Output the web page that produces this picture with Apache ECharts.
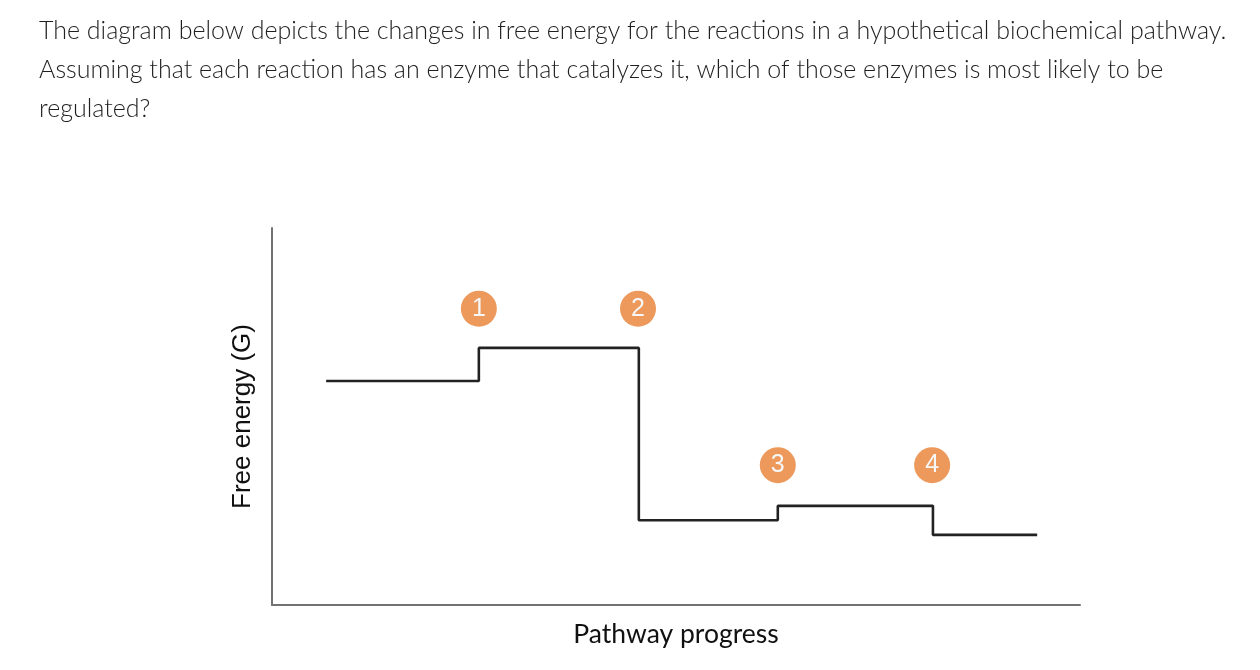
<!DOCTYPE html>
<html><head><meta charset="utf-8">
<script src="https://cdn.jsdelivr.net/npm/echarts@6/dist/echarts.min.js"></script>
<style>html,body{margin:0;padding:0;background:#fff}#c{width:1260px;height:670px}</style>
</head><body><div id="c"></div>
<script>
const questionLines = [
  'The diagram below depicts the changes in free energy for the reactions in a hypothetical biochemical pathway.',
  'Assuming that each reaction has an enzyme that catalyzes it, which of those enzymes is most likely to be',
  'regulated?'
];
// Step boundaries (pathway progress) and free-energy level starting at each boundary
const stepX = [6.7, 25.6, 45.4, 62.6, 81.8, 94.7];
const stepG = [59.4, 68.2, 22.5, 26.3, 18.6, 18.6];
// Enzyme markers
const enzymeLabels = ['1', '2', '3', '4'];
const enzymeX = [25.6, 45.3, 62.6, 81.7];
const enzymeY = [78.6, 78.6, 37.1, 37.1];

const chart = echarts.init(document.getElementById('c'), null, {renderer: 'canvas'});
chart.setOption({
  animation: false,
  title: {
    text: questionLines.join('\n'),
    left: 39, top: 11, padding: 0,
    textStyle: {fontFamily: 'Lato', fontSize: 25, fontWeight: 300, color: '#1f1f1f', lineHeight: 39}
  },
  grid: {left: 272, right: 180, top: 228, bottom: 65},
  xAxis: {
    type: 'value', min: 0, max: 100,
    name: 'Pathway progress', nameLocation: 'middle', nameGap: 16,
    nameTextStyle: {fontFamily: 'Lato', fontSize: 26.5, color: '#111'},
    axisLine: {show: true, lineStyle: {color: '#727272', width: 2}},
    axisTick: {show: false}, axisLabel: {show: false}, splitLine: {show: false}
  },
  yAxis: {
    type: 'value', min: 0, max: 100,
    name: 'Free energy (G)', nameLocation: 'middle', nameGap: 16, nameRotate: 90,
    nameTextStyle: {fontFamily: 'Liberation Sans', fontSize: 26, color: '#111'},
    axisLine: {show: true, lineStyle: {color: '#727272', width: 2}},
    axisTick: {show: false}, axisLabel: {show: false}, splitLine: {show: false}
  },
  series: [
    {
      type: 'line', step: 'end', symbol: 'none',
      data: stepX.map((x, i) => [x, stepG[i]]),
      lineStyle: {color: '#222', width: 2.6}
    },
    {
      type: 'scatter', symbol: 'circle', symbolSize: 36,
      data: enzymeX.map((x, i) => ({value: [x, enzymeY[i]], name: enzymeLabels[i]})),
      itemStyle: {color: '#EC995B', opacity: 1},
      label: {show: true, position: 'inside', formatter: p => p.name,
        fontFamily: 'Liberation Sans', fontSize: 25, color: '#f7f7f7'}
    }
  ]
});
</script></body></html>
